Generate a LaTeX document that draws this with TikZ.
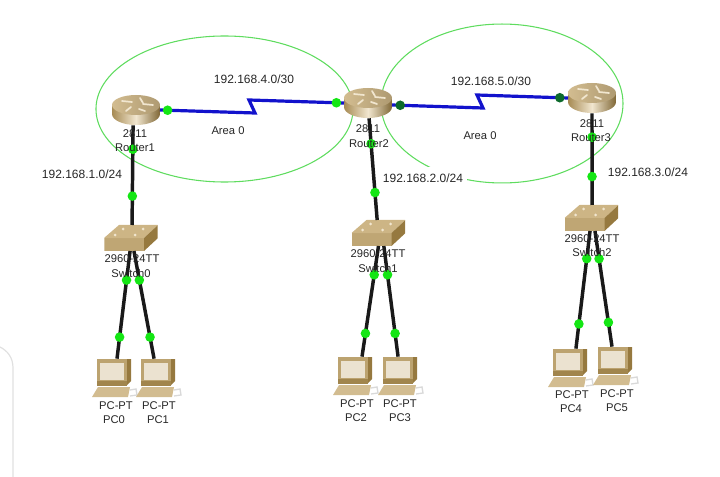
\documentclass[tikz,border=0pt]{standalone}
\usepackage{fontspec}
\setmainfont{Liberation Sans}
\usetikzlibrary{shapes.geometric}
\definecolor{areagreen}{HTML}{5FDC5F}
\definecolor{portgreen}{HTML}{14E614}
\definecolor{portdark}{HTML}{0C6A2C}
\definecolor{wanblue}{HTML}{1212CC}
\definecolor{tanlight}{HTML}{F1E6CF}
\definecolor{tanmid}{HTML}{CDB585}
\definecolor{tandark}{HTML}{96793F}
\definecolor{screen}{HTML}{EBE2D0}
\tikzset{
	area/.style={draw=areagreen, line width=0.8pt, ellipse, inner sep=0pt, outer sep=0pt},
	wan/.style={draw=wanblue, line width=2.4pt, line join=miter},
	lan/.style={draw=black!90, line width=2.6pt},
	port/.style={circle, fill=portgreen, minimum size=7.2pt, inner sep=0pt},
	portd/.style={circle, fill=portdark, minimum size=7.2pt, inner sep=0pt},
	txt/.style={font=\fontsize{8.4}{10}\selectfont, text=black!85, inner sep=0pt},
	addr/.style={font=\fontsize{9}{10}\selectfont, text=black!85, inner sep=0pt},
	net/.style={addr, fill=white, inner xsep=3pt, inner ysep=5pt},
	routerbox/.style={rectangle, minimum width=36pt, minimum height=23pt, inner sep=0pt, outer sep=0pt,
		path picture={
			\shade[left color=tandark!70!tanmid, right color=tandark!85!black, middle color=tanlight]
				(-24,-5) -- (-24,4) arc[start angle=180, end angle=0, x radius=24, y radius=11] -- (24,-5) -- cycle;
			\shade[left color=tanmid!85!tanlight, right color=tanmid!85!black] (0,-5) ellipse[x radius=24, y radius=10];
			\draw[tanlight, line width=1.3pt, line cap=round] (-14,-9) -- (-4,-8);
			\draw[tanlight, line width=1.3pt, line cap=round] (4,-12) -- (7,-7);
			\draw[tanlight, line width=1.3pt, line cap=round] (7,-6) -- (17,-5);
			\draw[tanlight, line width=1.3pt, line cap=round] (-10,1) -- (-5,-3);
			\draw[tanlight, line width=1.3pt, line cap=round] (3,-1) -- (9,1);
		}},
	switchbox/.style={rectangle, minimum width=40pt, minimum height=19.5pt, inner sep=0pt, outer sep=0pt,
		path picture={
			\fill[tanmid!75!tandark] (-27,0) -- (13,0) -- (13,13) -- (-27,13) -- cycle;
			\fill[tanmid] (-27,0) -- (-12,-13) -- (27,-13) -- (13,0) -- cycle;
			\fill[tandark] (13,0) -- (27,-13) -- (27,0) -- (13,13) -- cycle;
			\fill[tanlight] (-16,-3) circle[radius=1.5];
			\fill[tanlight] (-8,-9) circle[radius=1.5];
			\fill[tanlight] (4,-3) circle[radius=1.5];
			\fill[tanlight] (12,-9) circle[radius=1.5];
		}},
	pcbox/.style={rectangle, minimum width=35pt, minimum height=29pt, inner sep=0pt, outer sep=0pt,
		path picture={
			\fill[tandark] (12,-19) -- (16,-19) -- (16,3) -- (12,7) -- cycle;
			\fill[tanmid!70!tandark] (-18,-19) rectangle (12,3);
			\fill[screen] (-15,-15) rectangle (9,2);
			\fill[tandark!80!tanmid] (-18,3) rectangle (12,8);
			\fill[tanmid!85!tanlight] (-17,9) -- (15,9) -- (13,19) -- (-23,19) -- cycle;
			\draw[black!15, line width=1pt] (15,12) -- (21,11) -- (22,17) -- (15,18);
		}},
}
\begin{document}
\begin{tikzpicture}[x=0.75pt, y=-0.75pt]
	\useasboundingbox (0,0) rectangle (720,477);
	\coordinate (EdgeA) at (0,347);
	\coordinate (EdgeB) at (13,477);
	\draw[black!12, line width=0.9pt] (EdgeA) .. controls (8,351) and (13,358) .. (13,368) -- (EdgeB);
	
	\node[area, minimum width=192.8pt, minimum height=109.5pt] (Area1) at (224.5,109) {};
	\node[area, minimum width=181.5pt, minimum height=119.2pt] (Area2) at (502,103.5) {};
	
	\node[routerbox] (Router1) at (136,110) {};
	\node[routerbox] (Router2) at (368,103) {};
	\node[routerbox] (Router3) at (592,98) {};
	\node[switchbox] (Switch0) at (131,238) {};
	\node[switchbox] (Switch1) at (378.5,233) {};
	\node[switchbox] (Switch2) at (591.5,218) {};
	\node[pcbox] (PC0) at (115,378) {};
	\node[pcbox] (PC1) at (159,378) {};
	\node[pcbox] (PC2) at (356,376) {};
	\node[pcbox] (PC3) at (401,376) {};
	\node[pcbox] (PC4) at (571,368) {};
	\node[pcbox] (PC5) at (616,366) {};
	
	\coordinate (ZigA) at (255,113);
	\coordinate (ZigB) at (249,100);
	\coordinate (ZigC) at (483,108);
	\coordinate (ZigD) at (477,95);
	\draw[wan] (Router1.east) -- (ZigA) node[port, pos=0.08] (P1) {} -- (ZigB) -- (Router2.west) node[port, pos=0.92] (P2) {};
	\draw[wan] ([yshift=-1.5pt]Router2.east) -- (ZigC) node[portd, pos=0.09] (P3) {} -- (ZigD) -- (Router3.west) node[portd, pos=0.91] (P4) {};
	
	\draw[lan] ([xshift=-2.2pt]Router1.south) -- ([xshift=0.8pt]Switch0.north) node[port, pos=0.24] (P5) {} node[port, pos=0.71] (P6) {};
	\draw[lan] ([xshift=0.8pt]Router2.south) -- ([xshift=-1pt]Switch1.north) node[port, pos=0.25] (P7) {} node[port, pos=0.73] (P8) {};
	\draw[lan] (Router3.south) -- ([xshift=0.4pt]Switch2.north) node[port, pos=0.26] (P9) {} node[port, pos=0.69] (P10) {};
	
	\draw[lan] ([xshift=-0.7pt]Switch0.south) -- ([xshift=1.5pt]PC0.north) node[port, pos=0.27] (P11) {} node[port, pos=0.8] (P12) {};
	\draw[lan] ([xshift=2.2pt]Switch0.south) -- ([xshift=-3.7pt]PC1.north) node[port, pos=0.27] (P13) {} node[port, pos=0.8] (P14) {};
	\draw[lan] (Switch1.south) -- ([xshift=4.5pt]PC2.north) node[port, pos=0.26] (P15) {} node[port, pos=0.79] (P16) {};
	\draw[lan] ([xshift=4pt]Switch1.south) -- ([xshift=-2.2pt]PC3.north) node[port, pos=0.26] (P17) {} node[port, pos=0.79] (P18) {};
	\draw[lan] ([xshift=-1.1pt]Switch2.south) -- ([xshift=3.7pt]PC4.north) node[port, pos=0.235] (P19) {} node[port, pos=0.79] (P20) {};
	\draw[lan] ([xshift=2.6pt]Switch2.south) -- ([xshift=-3pt]PC5.north) node[port, pos=0.24] (P21) {} node[port, pos=0.79] (P22) {};
	
	\node[addr] (NetA) at (254,79) {192.168.4.0/30};
	\node[addr] (NetB) at (491,81) {192.168.5.0/30};
	\node[addr] (NetC) at (82,174) {192.168.1.0/24};
	\node[net] (NetD) at (423,178) {192.168.2.0/24};
	\node[addr] (NetE) at (648,172) {192.168.3.0/24};
	\node[txt] (AreaA) at (228,131) {Area 0};
	\node[txt] (AreaB) at (480,136) {Area 0};
	
	\node[txt] (ModelR1) at (135,134) {2811};
	\node[txt] (NameR1) at (135,148) {Router1};
	\node[txt] (ModelR2) at (368,129) {2811};
	\node[txt] (NameR2) at (369,144) {Router2};
	\node[txt] (ModelR3) at (592,124) {2811};
	\node[txt] (NameR3) at (591,138) {Router3};
	
	\node[txt] (ModelS0) at (132,259) {2960-24TT};
	\node[txt] (NameS0) at (131,273) {Switch0};
	\node[txt] (ModelS1) at (378,254) {2960-24TT};
	\node[txt] (NameS1) at (378,268) {Switch1};
	\node[txt] (ModelS2) at (592,239) {2960-24TT};
	\node[txt] (NameS2) at (592,252) {Switch2};
	
	\node[txt] (ModelP0) at (116,406) {PC-PT};
	\node[txt] (NameP0) at (114,420) {PC0};
	\node[txt] (ModelP1) at (159,406) {PC-PT};
	\node[txt] (NameP1) at (158,420) {PC1};
	\node[txt] (ModelP2) at (357,404) {PC-PT};
	\node[txt] (NameP2) at (356,418) {PC2};
	\node[txt] (ModelP3) at (400,404) {PC-PT};
	\node[txt] (NameP3) at (400,418) {PC3};
	\node[txt] (ModelP4) at (572,395) {PC-PT};
	\node[txt] (NameP4) at (571,409) {PC4};
	\node[txt] (ModelP5) at (617,394) {PC-PT};
	\node[txt] (NameP5) at (617,408) {PC5};
\end{tikzpicture}
\end{document}
